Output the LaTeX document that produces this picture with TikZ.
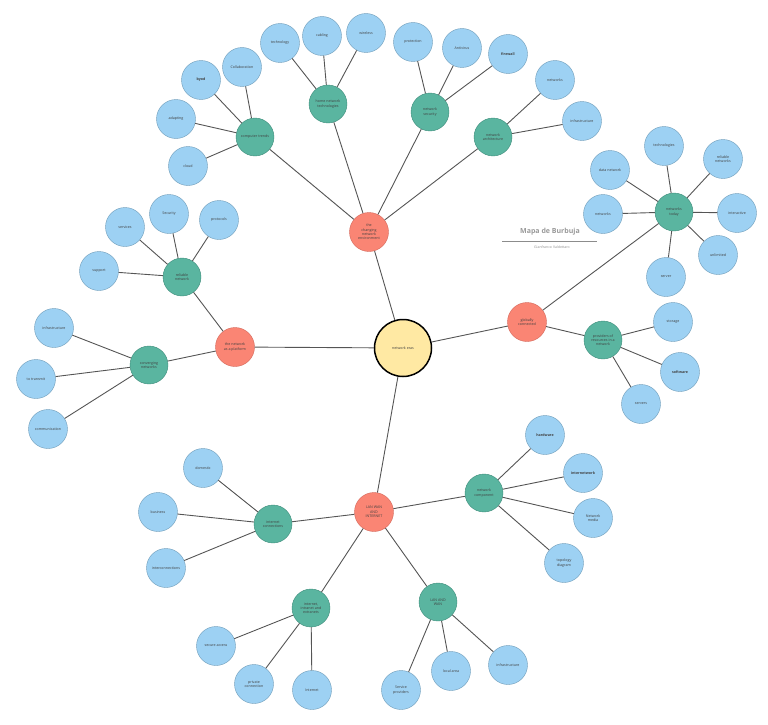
\documentclass[tikz,border=0pt]{standalone}
\usepackage{fontspec}
\setmainfont{Open Sans}
\definecolor{bubblue}{HTML}{9DD1F3}
\definecolor{bubblueline}{HTML}{6F9CB9}
\definecolor{bubgreen}{HTML}{5AB5A0}
\definecolor{bubgreenline}{HTML}{3F8C7B}
\definecolor{bubred}{HTML}{FA8574}
\definecolor{bubredline}{HTML}{D4675A}
\definecolor{bubyellow}{HTML}{FFE9A3}
\definecolor{edgegray}{HTML}{555555}

\begin{document}
\begin{tikzpicture}[x=1pt,y=-1pt,
  bubble/.style={circle,inner sep=0pt,align=center,font=\fontsize{3.6}{4.3}\selectfont,text=black!75},
  leaf/.style={bubble,draw=bubblueline,fill=bubblue,minimum size=39pt},
  topic/.style={bubble,draw=bubgreenline,fill=bubgreen,minimum size=38pt},
  branch/.style={bubble,draw=bubredline,fill=bubred,minimum size=39pt},
  hub/.style={bubble,draw=black,line width=1.5pt,fill=bubyellow,minimum size=57pt},
  link/.style={draw=edgegray,line width=0.9pt}]
  \useasboundingbox (0,0) rectangle (768,725);

  \node[hub] (eras) at (403,348) {network eras};

  \node[branch] (env) at (369,232) {the\\changing\\network\\environment};
  \node[branch] (glob) at (527,322) {globally\\connected};
  \node[branch] (plat) at (235,347) {the network\\as a platform};
  \node[branch] (lwi) at (374,512) {LAN WAN\\AND\\INTERNET};

  \node[topic] (trends) at (255,137) {computer trends};
  \node[topic] (home) at (328,104) {home network\\technologies};
  \node[topic] (sec) at (430,112) {network\\security};
  \node[topic] (arch) at (493,137) {network\\architecture};
  \node[topic] (today) at (674,212) {networks\\today};
  \node[topic] (prov) at (603,340) {providers of\\resources in a\\network};
  \node[topic] (rel) at (182,277) {reliable\\network};
  \node[topic] (conv) at (149,365) {converging\\networks};
  \node[topic] (icon) at (273,524) {internet\\connections};
  \node[topic] (comp) at (484,493) {network\\component};
  \node[topic] (inex) at (311,608) {internet,\\intranet and\\extranets};
  \node[topic] (lanwan) at (438,602) {LAN AND\\WAN};

  \node[leaf] (collab) at (242,67) {Collaboration};
  \node[leaf,font=\bfseries\fontsize{3.6}{4.3}\selectfont] (byod) at (201,80) {byod};
  \node[leaf] (adapt) at (176,119) {adapting};
  \node[leaf] (cloud) at (188,166) {cloud};

  \node[leaf] (tech) at (280,43) {technology};
  \node[leaf] (cabl) at (322,36) {cabling};
  \node[leaf] (wless) at (366,33) {wireless};

  \node[leaf] (prot) at (413,42) {protection};
  \node[leaf] (anti) at (462,48) {Antivirus};
  \node[leaf,font=\bfseries\fontsize{3.6}{4.3}\selectfont] (fire) at (508,54) {firewall};

  \node[leaf] (archnet) at (555,80) {networks};
  \node[leaf] (archinf) at (582,121) {infrastructure};

  \node[leaf] (techs) at (664,146) {technologies};
  \node[leaf] (relnets) at (723,159) {reliable\\networks};
  \node[leaf] (inter) at (737,213) {interactive};
  \node[leaf] (unlim) at (718,255) {unlimited};
  \node[leaf] (server) at (666,277) {server};
  \node[leaf] (todnet) at (603,214) {networks};
  \node[leaf] (data) at (610,170) {data network};

  \node[leaf] (stor) at (673,322) {storage};
  \node[leaf,font=\bfseries\fontsize{3.6}{4.3}\selectfont] (soft) at (680,372) {software};
  \node[leaf] (servs) at (641,404) {servers};

  \node[leaf] (servc) at (125,227) {services};
  \node[leaf] (secur) at (169,214) {Security};
  \node[leaf] (protoc) at (219,220) {protocols};
  \node[leaf] (supp) at (99,271) {support};

  \node[leaf] (convinf) at (54,328) {infrastructure};
  \node[leaf] (trans) at (36,379) {to transmit};
  \node[leaf] (commu) at (48,429) {communication};

  \node[leaf] (domes) at (203,468) {domestic};
  \node[leaf] (busi) at (158,512) {business};
  \node[leaf] (intcon) at (166,568) {interconnections};

  \node[leaf,font=\bfseries\fontsize{3.6}{4.3}\selectfont] (hard) at (545,435) {hardware};
  \node[leaf,font=\bfseries\fontsize{3.6}{4.3}\selectfont] (inwk) at (583,473) {internetwork};
  \node[leaf] (media) at (593,518) {Network\\media};
  \node[leaf] (topo) at (564,563) {topology\\diagram};

  \node[leaf] (secacc) at (216,646) {secure access};
  \node[leaf] (priv) at (254,684) {private\\connection};
  \node[leaf] (inet) at (312,690) {Internet};

  \node[leaf] (sprov) at (401,690) {Service\\providers};
  \node[leaf] (local) at (451,671) {local area};
  \node[leaf] (lwinf) at (508,665) {infrastructure};

  \draw[link] (eras) -- (env);
  \draw[link] (eras) -- (glob);
  \draw[link] (eras) -- (plat);
  \draw[link] (eras) -- (lwi);

  \draw[link] (env) -- (trends);
  \draw[link] (env) -- (home);
  \draw[link] (env) -- (sec);
  \draw[link] (env) -- (arch);
  \draw[link] (glob) -- (today);
  \draw[link] (glob) -- (prov);
  \draw[link] (plat) -- (rel);
  \draw[link] (plat) -- (conv);
  \draw[link] (lwi) -- (icon);
  \draw[link] (lwi) -- (comp);
  \draw[link] (lwi) -- (inex);
  \draw[link] (lwi) -- (lanwan);

  \draw[link] (trends) -- (collab);
  \draw[link] (trends) -- (byod);
  \draw[link] (trends) -- (adapt);
  \draw[link] (trends) -- (cloud);
  \draw[link] (home) -- (tech);
  \draw[link] (home) -- (cabl);
  \draw[link] (home) -- (wless);
  \draw[link] (sec) -- (prot);
  \draw[link] (sec) -- (anti);
  \draw[link] (sec) -- (fire);
  \draw[link] (arch) -- (archnet);
  \draw[link] (arch) -- (archinf);
  \draw[link] (today) -- (techs);
  \draw[link] (today) -- (relnets);
  \draw[link] (today) -- (inter);
  \draw[link] (today) -- (unlim);
  \draw[link] (today) -- (server);
  \draw[link] (today) -- (todnet);
  \draw[link] (today) -- (data);
  \draw[link] (prov) -- (stor);
  \draw[link] (prov) -- (soft);
  \draw[link] (prov) -- (servs);
  \draw[link] (rel) -- (servc);
  \draw[link] (rel) -- (secur);
  \draw[link] (rel) -- (protoc);
  \draw[link] (rel) -- (supp);
  \draw[link] (conv) -- (convinf);
  \draw[link] (conv) -- (trans);
  \draw[link] (conv) -- (commu);
  \draw[link] (icon) -- (domes);
  \draw[link] (icon) -- (busi);
  \draw[link] (icon) -- (intcon);
  \draw[link] (comp) -- (hard);
  \draw[link] (comp) -- (inwk);
  \draw[link] (comp) -- (media);
  \draw[link] (comp) -- (topo);
  \draw[link] (inex) -- (secacc);
  \draw[link] (inex) -- (priv);
  \draw[link] (inex) -- (inet);
  \draw[link] (lanwan) -- (sprov);
  \draw[link] (lanwan) -- (local);
  \draw[link] (lanwan) -- (lwinf);

  \node[font=\bfseries\fontsize{7}{8}\selectfont,text=black!40] (title) at (550,232) {Mapa de Burbuja};
  \coordinate (rulel) at (502,241);
  \coordinate (ruler) at (597,241);
  \draw[black!45,line width=0.6pt] (rulel) -- (ruler);
  \node[font=\fontsize{3.5}{4}\selectfont,text=black!45] (author) at (552,247) {Gianfranco Valdettaro};
\end{tikzpicture}
\end{document}
